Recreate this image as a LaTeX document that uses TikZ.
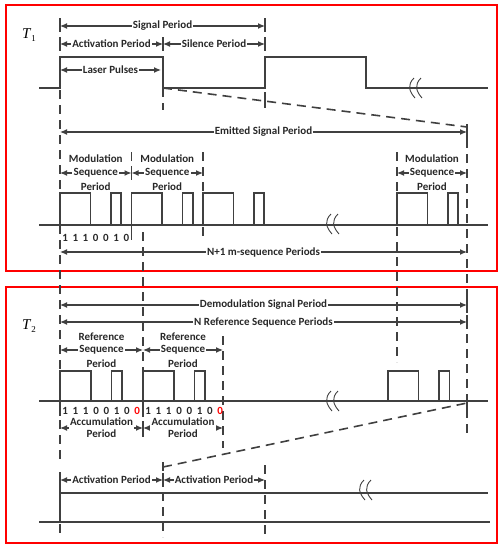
\documentclass[tikz,border=0pt]{standalone}
\usepackage{fontspec}
\setmainfont{Carlito}
\newfontfamily\tfont{Liberation Serif}
\usetikzlibrary{arrows.meta}
\definecolor{linec}{RGB}{64,64,64}
\definecolor{txtc}{RGB}{40,40,40}
\begin{document}
\begin{tikzpicture}[x=1pt,y=-1pt,
  ln/.style={draw=linec,line width=1.6pt},
  dsh/.style={draw=linec,line width=1.6pt,dash pattern=on 9pt off 6pt},
  tk/.style={draw=linec,line width=1.4pt},
  arr/.style={draw=linec,line width=1.2pt,{Latex[length=7pt,width=6pt]}-{Latex[length=7pt,width=6pt]}},
  lbl/.style={font=\bfseries\fontsize{11}{12}\selectfont,text=txtc,inner sep=1.2pt},
  wlbl/.style={lbl,fill=white},
  bit/.style={font=\bfseries\fontsize{11}{12}\selectfont,text=txtc,inner sep=0pt},
  redbox/.style={draw=red,line width=1.5pt},
  brk/.pic={\draw[linec,line width=0.9pt] (2,-10) .. controls (-5,-3) and (-3,3) .. (3,10);
            \draw[linec,line width=0.9pt] (9,-10) .. controls (2,-3) and (4,3) .. (10,10);}
]
\useasboundingbox (0,0) rectangle (504,550);
% red frames
\draw[redbox] (6,5) rectangle (497,271);
\draw[redbox] (6,287) rectangle (497,543);
% labels T1, T2
\node (t1) at (29,35) {\tfont\fontsize{15}{15}\selectfont\textit{T}\raisebox{-3pt}{\fontsize{9}{9}\selectfont 1}};
\node (t2) at (29,326) {\tfont\fontsize{15}{15}\selectfont\textit{T}\raisebox{-3pt}{\fontsize{9}{9}\selectfont 2}};

% ===== T1 top waveform =====
\draw[ln] (39,88) -- (60,88) -- (60,57) -- (163,57) -- (163,88) -- (265,88) -- (265,57) -- (366,57) -- (366,88) -- (488,88);
\pic at (412,88) {brk};
% ticks top
\draw[tk] (60,18) -- (60,32); \draw[tk] (265,18) -- (265,32);
\draw[tk] (60,37) -- (60,51); \draw[tk] (163,37) -- (163,51); \draw[tk] (265,37) -- (265,51);
% arrows top
\coordinate (sp0) at (60,26); \coordinate (sp1) at (265,26);
\draw[arr] (sp0) -- (sp1) node[midway,wlbl] (sigp) {Signal Period};
\coordinate (ap0) at (60,44); \coordinate (ap1) at (163,44); \coordinate (ap2) at (265,44);
\draw[arr] (ap0) -- (ap1) node[midway,wlbl] (actp) {Activation Period};
\draw[arr] (ap1) -- (ap2) node[midway,wlbl] (silp) {Silence Period};
\coordinate (lp0) at (60,70); \coordinate (lp1) at (161,70);
\draw[arr] (lp0) -- (lp1) node[midway,wlbl] (laser) {Laser Pulses};
% dashed verticals / diagonal top
\draw[dsh] (60,90) -- (60,464);
\draw[dsh] (163,88) -- (163,110);
\draw[tk] (265,92) -- (265,108);
\draw[dsh] (163,88) -- (467,127);
\draw[dsh] (467,124) -- (467,434);
\draw[tk] (467,124) -- (467,139);
% emitted
\coordinate (ep0) at (60,132); \coordinate (ep1) at (467,132);
\draw[arr] (ep0) -- (ep1) node[midway,wlbl] (emit) {Emitted Signal Period};

% modulation periods
\draw[dsh] (131.5,152) -- (131.5,168);
\draw[tk] (131.5,166) -- (131.5,180);
\draw[dsh] (203,152) -- (203,240);
\draw[dsh] (397,152) -- (397,362);
\coordinate (m0) at (60,173); \coordinate (m1) at (131.5,173); \coordinate (m2) at (203,173);
\coordinate (m3) at (397,173); \coordinate (m4) at (467,173);
\draw[arr] (m0) -- (m1);
\draw[arr] (m1) -- (m2);
\draw[arr] (m3) -- (m4);
\foreach \c/\n in {95.75/a,167.25/b,432/c}{
  \node[lbl] (mod\n) at (\c,159) {Modulation};
  \node[wlbl] (seq\n) at (\c,173) {Sequence};
  \node[lbl] (per\n) at (\c,187) {Period};
}
% modulation pulses
\draw[ln] (39,225) -- (488,225);
\foreach \s in {60,131.5,203,397}{
  \draw[ln] (\s,225) -- (\s,193) -- (\s+30.6,193) -- (\s+30.6,225);
  \draw[ln] (\s+51,225) -- (\s+51,193) -- (\s+61.2,193) -- (\s+61.2,225);
}
\pic at (329,224) {brk};
\foreach \b [count=\i from 0] in {1,1,1,0,0,1,0}{
  \node[bit] at (65.1+10.2*\i,238) {\b};
}
\draw[tk] (131.5,225) -- (131.5,240);
% N+1
\draw[dsh] (143,232) -- (143,400);
\coordinate (n0) at (60,252); \coordinate (n1) at (467,252);
\draw[arr] (n0) -- (n1) node[midway,wlbl] (nplus) {N+1 m-sequence Periods};

% ===== T2 =====
\coordinate (d0) at (60,305); \coordinate (d1) at (467,305);
\draw[arr] (d0) -- (d1) node[midway,wlbl] (demod) {Demodulation Signal Period};
\draw[tk] (467,298) -- (467,312);
\coordinate (r0) at (60,322); \coordinate (r1) at (467,322);
\draw[arr] (r0) -- (r1) node[midway,wlbl] (nref) {N Reference Sequence Periods};
\draw[tk] (467,315) -- (467,329);
\draw[dsh] (223,336) -- (223,448);
\coordinate (q0) at (60,350); \coordinate (q1) at (143,350); \coordinate (q2) at (223,350);
\draw[arr] (q0) -- (q1);
\draw[arr] (q1) -- (q2);
\foreach \c/\n in {101.5/a,183/b}{
  \node[lbl] (ref\n) at (\c,337) {Reference};
  \node[wlbl] (rseq\n) at (\c,350) {Sequence};
  \node[lbl] (rper\n) at (\c,363.5) {Period};
}
% reference pulses
\draw[ln] (39,401) -- (488,401);
\foreach \s in {60,143,387.7}{
  \draw[ln] (\s,401) -- (\s,371) -- (\s+30.9,371) -- (\s+30.9,401);
  \draw[ln] (\s+51.5,401) -- (\s+51.5,371) -- (\s+61.8,371) -- (\s+61.8,401);
}
\pic at (329,401) {brk};
\foreach \s in {60,143}{
  \foreach \b [count=\i from 0] in {1,1,1,0,0,1,0}{
    \node[bit] at (\s+5.15+10.3*\i,411) {\b};
  }
  \node[bit,text=red] at (\s+5.15+72.1,411) {0};
}
\draw[tk] (60,401) -- (60,416);
\draw[tk] (143,401) -- (143,417);
% accumulation
\coordinate (c0) at (60,428); \coordinate (c1) at (143,428); \coordinate (c2) at (223,428);
\draw[arr] (c0) -- (c1);
\draw[arr] (c1) -- (c2);
\draw[tk] (143,421) -- (143,437);
\node[wlbl,align=center] (acca) at (101.5,428) {Accumulation\\Period};
\node[wlbl,align=center] (accb) at (183,428) {Accumulation\\Period};
% diagonal
\draw[dsh] (163,467) -- (467,403);
\draw[tk] (467,396) -- (467,410);
% activation bottom
\draw[dsh] (163,462) -- (163,537);
\draw[dsh] (265,465) -- (265,537);
\coordinate (b0) at (60,480); \coordinate (b1) at (163,480); \coordinate (b2) at (265,480);
\draw[arr] (b0) -- (b1) node[midway,wlbl] (acta) {Activation Period};
\draw[arr] (b1) -- (b2) node[midway,wlbl] (actb) {Activation Period};
\draw[tk] (163,473) -- (163,487);
\draw[ln] (60,472) -- (60,522);
\draw[dsh] (60,524) -- (60,537);
\draw[ln] (60,493) -- (488,493);
\draw[ln] (39,522) -- (490,522);
\pic at (362,490) {brk};
\end{tikzpicture}
\end{document}
